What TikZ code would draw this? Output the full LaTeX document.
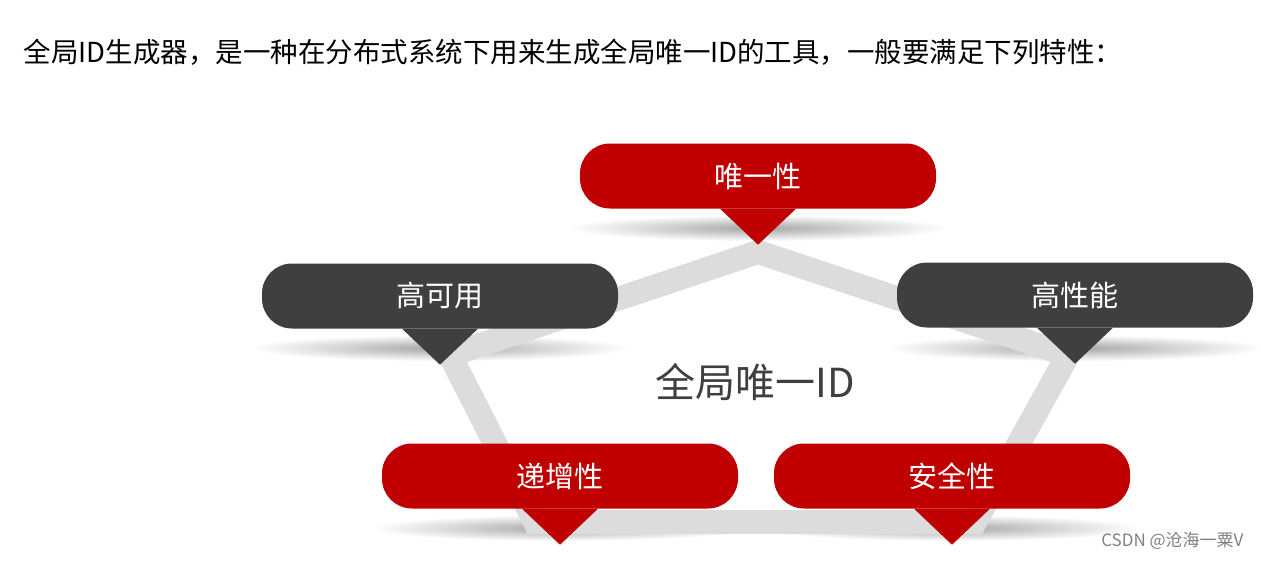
\documentclass[tikz,border=0pt]{standalone}
\usepackage{fontspec}
\setmainfont{Noto Sans CJK SC}
\usetikzlibrary{positioning}
\definecolor{idred}{HTML}{C00000}
\definecolor{iddark}{HTML}{3F3F3F}
\definecolor{band}{HTML}{DCDCDC}
\tikzset{
  pill/.style={rectangle, rounded corners=30pt, minimum width=356pt, minimum height=65pt,
    text=white, font=\fontsize{29}{29}\selectfont, inner sep=0pt},
  pillshadow/.style={inner color=gray!70, outer color=white},
}
\newcommand{\pointer}[2]{%
  \fill[#2] ([xshift=-38pt]#1.south) -- ([xshift=38pt]#1.south) -- ([yshift=-36pt]#1.south) -- cycle;}
\begin{document}
\begin{tikzpicture}[x=1pt,y=-1pt]
			\useasboundingbox (0,0) rectangle (1261,560);
			\node[anchor=west, font=\fontsize{27.5}{27.5}\selectfont] (title) at (20,52)
			  {全局ID生成器，是一种在分布式系统下用来生成全局唯一ID的工具，一般要满足下列特性：};
			% shadows
			\foreach \x/\y in {758/228, 440/348, 1075/348, 560/528, 952/528}
			  \shade[pillshadow] (\x,\y) ellipse (190 and 13);
			% pentagon band
			\coordinate (top) at (758,252);
			\coordinate (left) at (450,355);
			\coordinate (right) at (1068,355);
			\coordinate (bl) at (535,522);
			\coordinate (br) at (975,522);
			\draw[band, line width=24pt, line join=miter] (top) -- (left) -- (bl) -- (br) -- (right) -- cycle;
			% pills
			\node[pill, fill=idred] (uniq) at (758,176) {唯一性};
			\node[pill, fill=iddark] (avail) at (440,296) {高可用};
			\node[pill, fill=iddark] (perf) at (1075,295) {高性能};
			\node[pill, fill=idred] (incr) at (560,476) {递增性};
			\node[pill, fill=idred] (safe) at (952,476) {安全性};
			\pointer{uniq}{idred}
			\pointer{avail}{iddark}
			\pointer{perf}{iddark}
			\pointer{incr}{idred}
			\pointer{safe}{idred}
			\node[font=\fontsize{40}{40}\selectfont, text=iddark] (core) at (755,382) {全局唯一ID};
			\node[anchor=east, font=\fontsize{17}{17}\selectfont, text=gray] (mark) at (1247,541) {CSDN @沧海一粟V};
\end{tikzpicture}
\end{document}
